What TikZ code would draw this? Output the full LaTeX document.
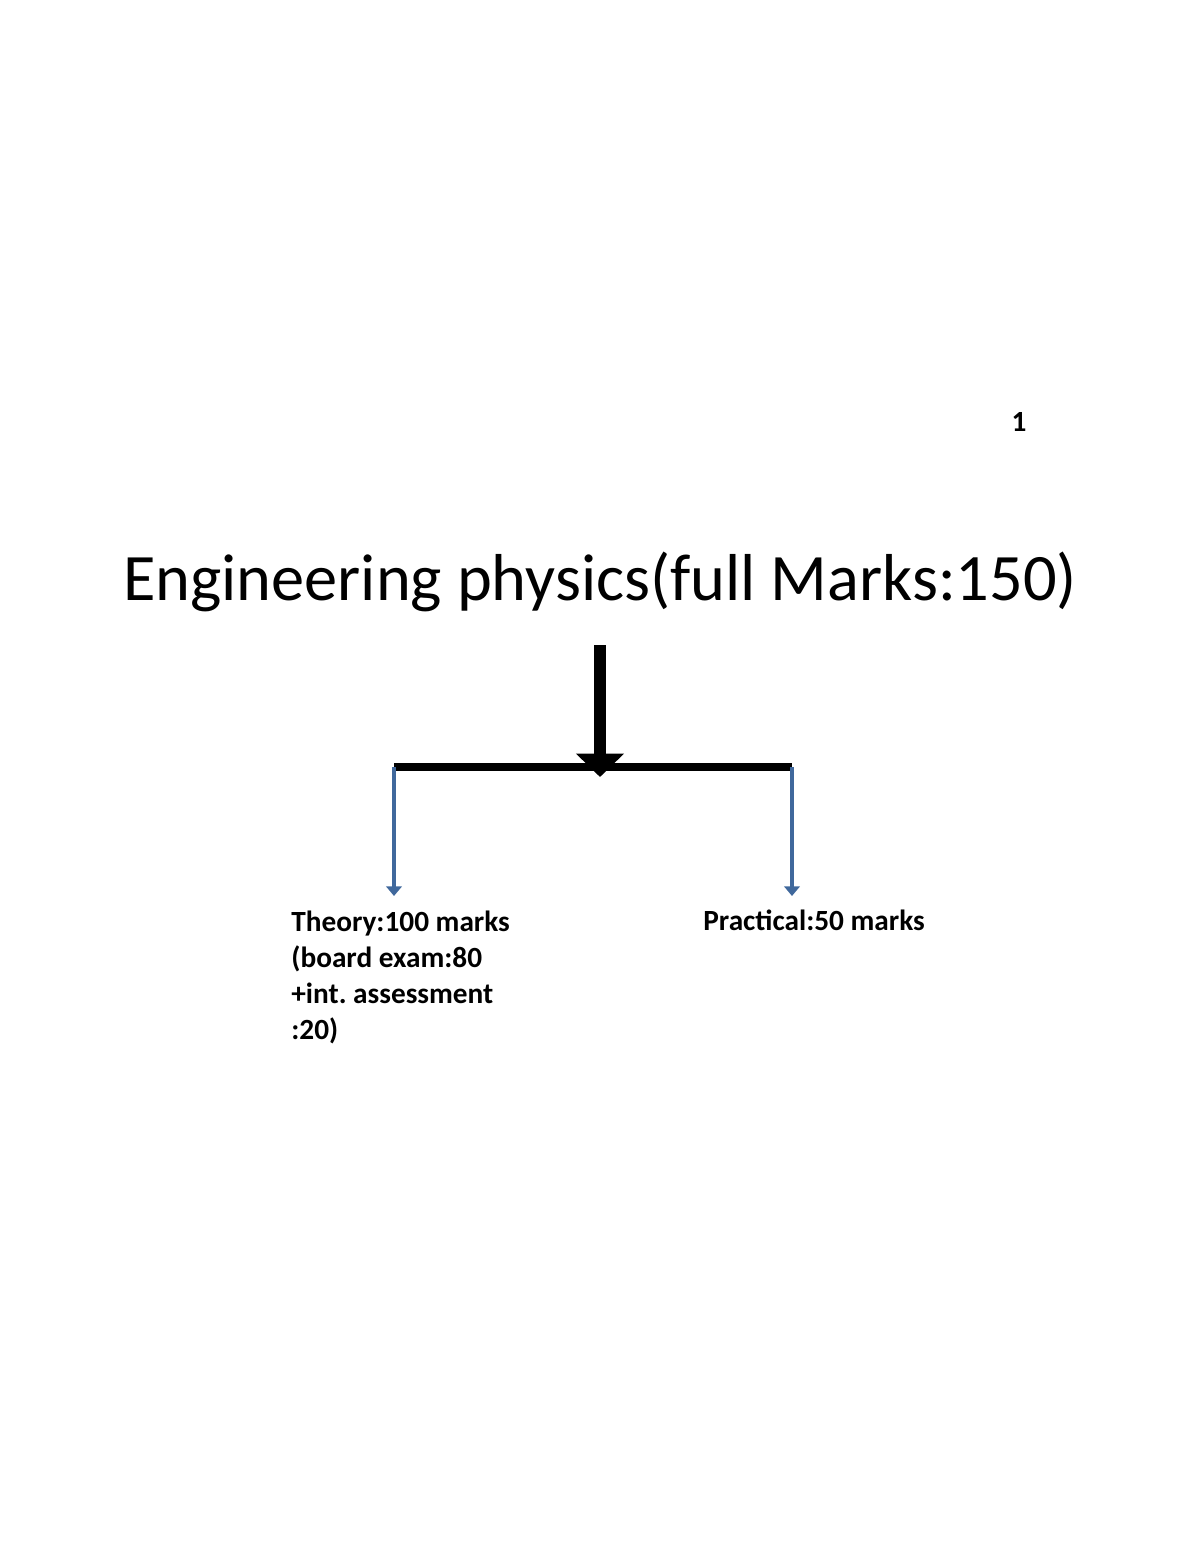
\documentclass[tikz,border=0pt]{standalone}
\usepackage{fontspec}
\setmainfont{Carlito}
\frenchspacing
\usetikzlibrary{positioning, arrows.meta}
\definecolor{arrowblue}{RGB}{64,104,156}
\tikzstyle{Title}=[inner sep=0pt, font=\fontsize{34}{41}\selectfont]
\tikzstyle{Part}=[inner sep=0pt, align=left, font=\fontsize{15}{18.4}\selectfont\bfseries]
\tikzstyle{Main}=[line width=6pt, -{Triangle[width=24pt,length=12pt]}]
\tikzstyle{Branch}=[arrowblue, line width=2.4pt, -{Triangle[width=8pt,length=5pt]}]

\begin{document}
\begin{tikzpicture}[x=0.018cm, y=-0.018cm]
		\useasboundingbox (0,0) rectangle (1200,1553);
		\node[inner sep=0pt, font=\fontsize{15}{18}\selectfont\bfseries, anchor=base] (page) at (1019,431) {1};
		\node[Title, anchor=base] (title) at (600,600) {Engineering physics(full Marks:150)};
		\coordinate (top) at (600,645);
		\coordinate (split) at (600,777);
		\coordinate (left) at (394,767);
		\coordinate (right) at (792,767);
		\node[Part, anchor=base west] (practical) at (703,930) {Practical:50 marks};
		\node[Part, anchor=north west] (theory) at (291,911) {Theory:100 marks\\(board exam:80\\+int. assessment\\:20)};
		\draw[line width=3.6pt] (left) -- (right);
		\draw[Main] (top) -- (split);
		\draw[Branch] (left) -- ++(0,129);
		\draw[Branch] (right) -- ++(0,129);
		\end{tikzpicture}
\end{document}
